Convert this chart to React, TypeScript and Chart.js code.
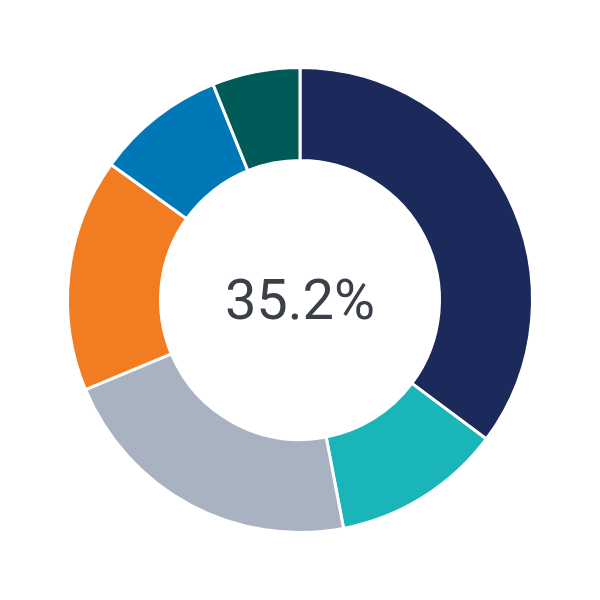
import React, { useEffect, useRef } from 'react';
import { Chart, registerables } from 'chart.js';

Chart.register(...registerables);

const labels = ['Navy', 'Teal', 'Grey', 'Orange', 'Blue', 'Dark teal'];
const values = [35.2, 11.8, 21.7, 16.2, 9.0, 6.1];
const colors = ['#1b2a5a', '#1ab5b8', '#a8b2c1', '#f17c21', '#0077b6', '#005a58'];
const centerLabel = '35.2%';

const App: React.FC = () => {
  const chartRef = useRef<HTMLCanvasElement>(null);

  useEffect(() => {
    if (!chartRef.current) return;
    const chart = new Chart(chartRef.current, {
      type: 'doughnut',
      data: {
        labels,
        datasets: [
          {
            data: values,
            backgroundColor: colors,
            borderColor: '#ffffff',
            borderWidth: 3,
          },
        ],
      },
      options: {
        animation: false,
        responsive: false,
        cutout: '60%',
        layout: { padding: 66 },
        plugins: {
          legend: { display: false },
          tooltip: { enabled: false },
        },
      },
    });
    return () => chart.destroy();
  }, []);

  return (
    <div style={{ position: 'fixed', left: 0, top: 0, width: 600, height: 600, background: '#fff' }}>
      <canvas ref={chartRef} width={600} height={600} style={{ width: 600, height: 600 }} />
      <div
        style={{
          position: 'absolute',
          left: 0,
          top: 0,
          width: 600,
          height: 600,
          display: 'flex',
          alignItems: 'center',
          justifyContent: 'center',
          fontFamily: 'Roboto, sans-serif',
          fontWeight: 400,
          fontSize: 56,
          color: '#3a3f48',
          pointerEvents: 'none',
        }}
      >
        {centerLabel}
      </div>
    </div>
  );
};

export default App;
